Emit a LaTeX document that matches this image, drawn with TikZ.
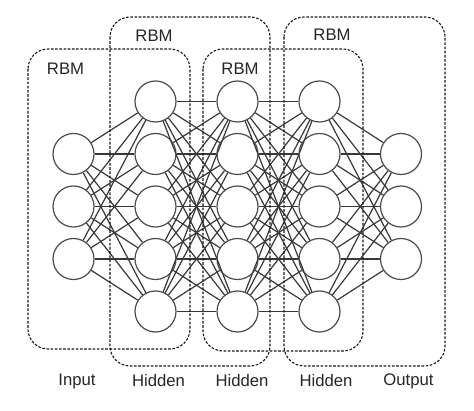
\documentclass[tikz,border=0pt]{standalone}
\usepackage{fontspec}
\setmainfont{Liberation Sans}
\begin{document}
\begin{tikzpicture}[x=1pt,y=-1pt,
  neuron/.style={circle,draw=black!70,line width=1.2pt,fill=white,minimum size=41pt,inner sep=0pt},
  conn/.style={draw=black!78,line width=1.2pt},
  rbmbox/.style={draw=black!90,line width=1.1pt,dash pattern=on 2.6pt off 1.6pt,rounded corners=20pt},
  lbl/.style={font=\fontsize{16.7}{20}\selectfont,text=black!85,inner sep=0pt}]
\useasboundingbox (0,0) rectangle (474,411);
% nodes
\foreach \i/\y in {1/154,2/206.5,3/259} {
  \node[neuron] (a\i) at (73.5,\y) {};
  \node[neuron] (e\i) at (401,\y) {};
}
\foreach \i/\y in {1/101.5,2/154,3/206.5,4/259,5/311.5} {
  \node[neuron] (b\i) at (155.5,\y) {};
  \node[neuron] (c\i) at (237.5,\y) {};
  \node[neuron] (d\i) at (319.5,\y) {};
}
% connections
\foreach \i in {1,2,3} \foreach \j in {1,...,5} {
  \draw[conn] (a\i) -- (b\j);
  \draw[conn] (d\j) -- (e\i);
}
\foreach \i in {1,...,5} \foreach \j in {1,...,5} {
  \draw[conn] (b\i) -- (c\j);
  \draw[conn] (c\i) -- (d\j);
}
% RBM boxes
\draw[rbmbox] (28,49) rectangle (190,349);
\draw[rbmbox] (110,17) rectangle (270,366);
\draw[rbmbox] (203,49) rectangle (363,351);
\draw[rbmbox] (284,17) rectangle (445,366);
\node[lbl] (r1) at (65.5,69) {RBM};
\node[lbl] (r2) at (154,36) {RBM};
\node[lbl] (r3) at (240,69) {RBM};
\node[lbl] (r4) at (332,35) {RBM};
% layer labels
\node[lbl] (l1) at (77,381) {Input};
\node[lbl] (l2) at (158.5,381) {Hidden};
\node[lbl] (l3) at (242,381) {Hidden};
\node[lbl] (l4) at (326,381) {Hidden};
\node[lbl] (l5) at (408.5,381) {Output};
\end{tikzpicture}
\end{document}
